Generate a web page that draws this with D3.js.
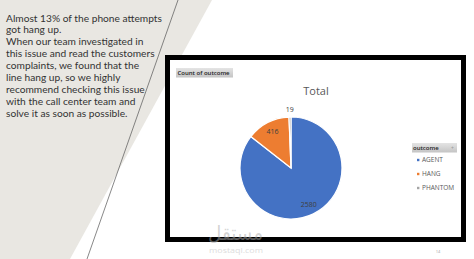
<!DOCTYPE html>
<html lang="en">
<head>
    <meta charset="UTF-8">
    <title>Count of outcome</title>
    <script src="https://d3js.org/d3.v7.min.js"></script>
    <style>
        body { margin: 0; background: #fff; font-family: "Open Sans", Arial, sans-serif; }
        svg { display: block; }
        .note { font-family: Lato, "Open Sans", sans-serif; font-size: 10.2px; fill: #333; }
        .lbl { font-size: 7px; fill: #404040; }
        .leg { font-size: 6.5px; fill: #595959; }
    </style>
</head>
<body>
    <svg id="chart" width="474" height="259"></svg>
    <script>
        const categories = ["AGENT", "HANG", "PHANTOM"];
        const counts = [2580, 416, 19];
        const colors = ["#4472c4", "#ed7d31", "#a5a5a5"];
        const noteLines = [
            "Almost 13% of the phone attempts",
            "got hang up.",
            "When our team investigated in",
            "this issue and read the customers",
            "complaints, we found that the",
            "line hang up, so we highly",
            "recommend checking this issue",
            "with the call center team and",
            "solve it as soon as possible."
        ];

        const svg = d3.select("#chart");

        // slide background
        svg.append("polygon")
           .attr("points", "0,0 212,0 70,259 0,259")
           .attr("fill", "#e9e7e2");
        svg.append("line")
           .attr("x1", 178).attr("y1", 0).attr("x2", 87).attr("y2", 259)
           .attr("stroke", "#555").attr("stroke-width", 0.7);

        svg.append("g").selectAll("text")
           .data(noteLines)
           .join("text")
           .attr("class", "note")
           .attr("x", 6)
           .attr("y", (d, i) => 21.5 + i * 11.9)
           .text(d => d);

        // chart frame
        svg.append("rect")
           .attr("x", 167.5).attr("y", 57.5)
           .attr("width", 296).attr("height", 182)
           .attr("fill", "#fff")
           .attr("stroke", "#000").attr("stroke-width", 5);

        const grad = svg.append("defs").append("linearGradient")
           .attr("id", "btn").attr("x1", 0).attr("y1", 0).attr("x2", 0).attr("y2", 1);
        grad.append("stop").attr("offset", "0%").attr("stop-color", "#e4e4e4");
        grad.append("stop").attr("offset", "100%").attr("stop-color", "#c4c4c4");

        svg.append("rect")
           .attr("x", 176).attr("y", 68).attr("width", 57).attr("height", 9.5)
           .attr("fill", "url(#btn)");
        svg.append("text")
           .attr("x", 177.5).attr("y", 75.3)
           .attr("font-size", 6).attr("font-weight", 600).attr("fill", "#222")
           .text("Count of outcome");

        svg.append("text")
           .attr("x", 316).attr("y", 95)
           .attr("text-anchor", "middle")
           .attr("font-size", 11).attr("fill", "#595959")
           .text("Total");

        // pie
        const cx = 291, cy = 168, r = 51;
        const pie = d3.pie().sort(null).value(d => d.v);
        const arcs = pie(categories.map((c, i) => ({c: c, v: counts[i]})));
        const arc = d3.arc().innerRadius(0).outerRadius(r);
        const labelArc = d3.arc().innerRadius(r * 0.8).outerRadius(r * 0.8);
        const outArc = d3.arc().innerRadius(r + 7).outerRadius(r + 7);

        const g = svg.append("g").attr("transform", `translate(${cx},${cy})`);
        g.selectAll("path")
         .data(arcs)
         .join("path")
         .attr("d", arc)
         .attr("fill", (d, i) => colors[i])
         .attr("stroke", "#fff").attr("stroke-width", 1.2);

        g.selectAll("text")
         .data(arcs)
         .join("text")
         .attr("class", "lbl")
         .attr("text-anchor", "middle")
         .attr("dy", "0.35em")
         .attr("transform", d => {
             const small = (d.endAngle - d.startAngle) < 0.2;
             return `translate(${(small ? outArc : labelArc).centroid(d)})`;
         })
         .text(d => d.data.v);

        // legend
        svg.append("rect")
           .attr("x", 412).attr("y", 143).attr("width", 45).attr("height", 9.5)
           .attr("fill", "url(#btn)");
        svg.append("text")
           .attr("x", 413).attr("y", 150.2)
           .attr("font-size", 6).attr("font-weight", 600).attr("fill", "#222")
           .text("outcome");
        svg.append("text")
           .attr("x", 451).attr("y", 150)
           .attr("font-size", 5).attr("fill", "#999")
           .text("+");

        const leg = svg.append("g").selectAll("g")
           .data(categories)
           .join("g")
           .attr("transform", (d, i) => `translate(417,${160 + i * 14})`);
        leg.append("rect")
           .attr("x", 0).attr("y", -1.2).attr("width", 2.4).attr("height", 2.4)
           .attr("fill", (d, i) => colors[i]);
        leg.append("text")
           .attr("class", "leg")
           .attr("x", 5).attr("y", 2.3)
           .text(d => d);

        // watermark and page number
        svg.append("text")
           .attr("x", 208).attr("y", 240)
           .attr("font-family", "DejaVu Sans")
           .attr("font-size", 20)
           .attr("textLength", 55).attr("lengthAdjust", "spacingAndGlyphs")
           .attr("fill", "#aaa").attr("fill-opacity", 0.5)
           .text("مستقل");
        svg.append("text")
           .attr("x", 209).attr("y", 252.5)
           .attr("font-size", 8)
           .attr("textLength", 54).attr("lengthAdjust", "spacingAndGlyphs")
           .attr("fill", "#ddd")
           .text("mostaql.com");
        svg.append("text")
           .attr("x", 438).attr("y", 253)
           .attr("text-anchor", "middle")
           .attr("font-size", 4).attr("fill", "#999")
           .text("14");
    </script>
</body>
</html>
